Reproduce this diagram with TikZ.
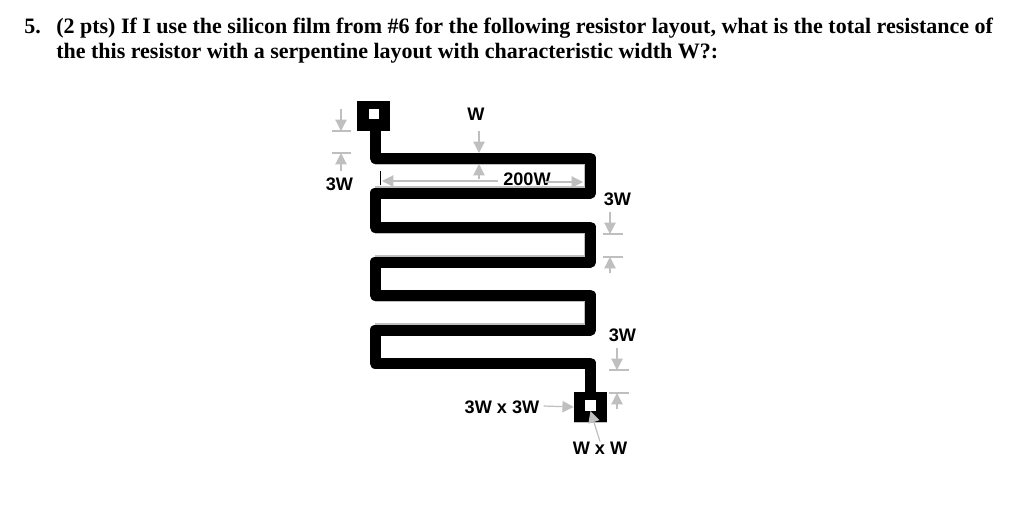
\documentclass[tikz,border=0pt]{standalone}
\usepackage{fontspec}
\setmainfont{Liberation Serif}
\setsansfont{Liberation Sans}
\usetikzlibrary{arrows.meta}
\tikzset{
    question/.style={anchor=base west, inner sep=0pt, font=\rmfamily\bfseries\fontsize{16.5pt}{18pt}\selectfont},
    dimtext/.style={inner sep=0pt, font=\sffamily\bfseries\fontsize{13.6pt}{15pt}\selectfont},
    dimarrow/.style={draw=black!25, fill=black!25, line width=0.9pt, -{Triangle[length=8.5pt, width=8.5pt]}},
    dimtick/.style={draw=black!25, line width=0.8pt},
    trace/.style={draw=black, line width=8.25pt, line join=round},
    padbox/.style={fill=black, inner sep=0pt, minimum width=24.75pt, minimum height=22.5pt},
    padhole/.style={fill=white, inner sep=0pt, minimum size=8pt}
}
\begin{document}
\begin{tikzpicture}[x=0.75pt, y=-0.75pt]
    \useasboundingbox (0, 0) rectangle (1024, 508);

    \node[question] (num) at (24, 33) {5.};
    \node[question] (lineone) at (56, 33) {(2 pts) If I use the silicon film from \#6 for the following resistor layout, what is the total resistance of};
    \node[question] (linetwo) at (56, 58) {the this resistor with a serpentine layout with characteristic width W?:};

    % faint edges inside the loops
    \foreach \ya/\yb in {164/187, 233/256, 301/324}
        \draw[dimtick] (375, \ya) -- (585, \ya) -- (585, \yb) -- (375, \yb);

    \draw[trace] (375, 125) to (375, 158) to (590.5, 158)
                            to (590.5, 193) to (375, 193)
                            to (375, 227) to (590.5, 227)
                            to (590.5, 262) to (375, 262)
                            to (375, 295) to (590.5, 295)
                            to (590.5, 330) to (375, 330)
                            to (375, 363) to (590.5, 363)
                            to (590.5, 398);

    \node[padbox] (padtop) at (373.5, 116) {};
    \node[padhole] (holetop) at (374, 114) {};
    \node[padbox] (padbot) at (590.5, 407) {};
    \node[padhole] (holebot) at (590.5, 405.5) {};
    \draw[dimtick] (padbot.south west) to (padbot.south east);

    % 3W on the left
    \draw[dimarrow] (341, 109) to (341, 131);
    \draw[dimtick] (332, 131) to (351, 131);
    \draw[dimtick] (332, 153) to (351, 153);
    \draw[dimarrow] (341, 171) to (341, 153);
    \node[dimtext] (leftlabel) at (339.5, 184) {3W};

    % W
    \node[dimtext] (widthlabel) at (476, 114) {W};
    \draw[dimarrow] (479, 131) to (479, 153);
    \draw[dimarrow] (479, 179) to (479, 164);

    % 200W
    \draw[thin] (380, 171) to (380, 185);
    \node[dimtext] (lengthlabel) at (527, 179) {200W};
    \draw[dimarrow] (498, 181) to (382, 181);
    \draw[dimarrow] (545, 182) to (583, 182);

    % 3W on the right
    \node[dimtext] (gaplabel) at (617.5, 199) {3W};
    \draw[dimarrow] (610, 212) to (610, 234);
    \draw[dimtick] (603, 234) to (623, 234);
    \draw[dimtick] (603, 257) to (623, 257);
    \draw[dimarrow] (610, 273) to (610, 257);

    \node[dimtext] (stemlabel) at (622.5, 335) {3W};
    \draw[dimarrow] (617, 348) to (617, 370);
    \draw[dimtick] (609, 370) to (629, 370);
    \draw[dimtick] (609, 393) to (629, 393);
    \draw[dimarrow] (617, 409) to (617, 393);

    % pad and hole sizes
    \node[dimtext] (padlabel) at (502, 407) {3W x 3W};
    \draw[dimarrow] (padlabel.east) ++(4, -1) to (padbot.west);
    \node[dimtext] (holelabel) at (600, 448) {W x W};
    \draw[dimarrow] (holelabel.north) to (holebot.south);
\end{tikzpicture}
\end{document}
